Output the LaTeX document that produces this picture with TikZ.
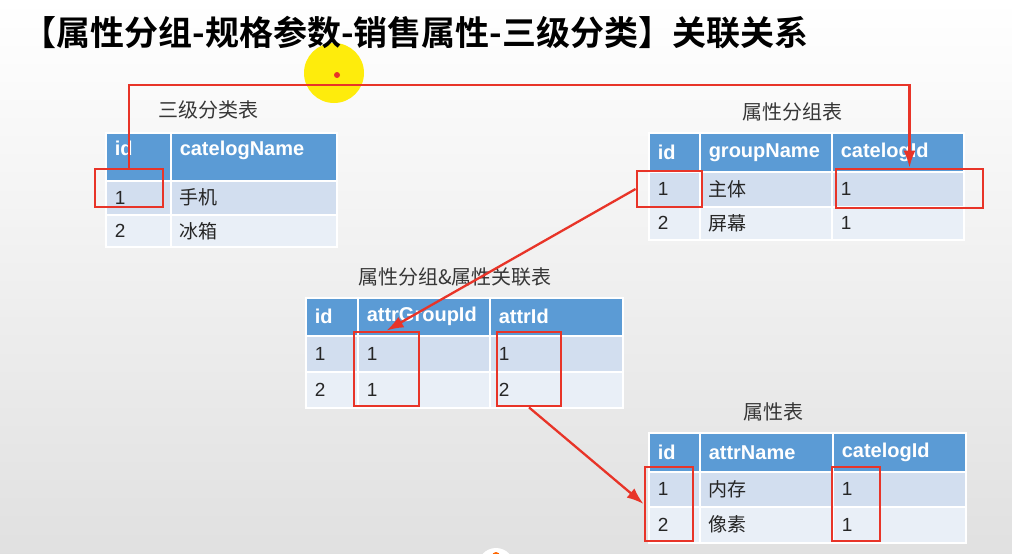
\documentclass[tikz,border=0pt]{standalone}
\usepackage{fontspec}
\setmainfont{Liberation Sans}
\newfontfamily\cjk{Noto Sans CJK SC}
\newfontfamily\cjkbold{Noto Sans CJK SC Bold}
\usetikzlibrary{arrows.meta}

\definecolor{hdrblue}{RGB}{91,155,213}
\definecolor{rowdark}{RGB}{210,222,239}
\definecolor{rowlight}{RGB}{233,239,247}
\definecolor{markred}{RGB}{232,52,40}
\definecolor{labelgray}{RGB}{55,55,55}
\definecolor{cursoryellow}{RGB}{255,236,0}

\tikzset{
  cell/.style={draw=white, line width=1.5pt, anchor=north west, inner xsep=9pt,
    inner ysep=0pt, align=left, text=black!85, font=\fontsize{19}{22}\selectfont},
  hdr/.style={cell, fill=hdrblue, text=white, font=\fontsize{20}{22}\selectfont\bfseries},
  hdrtall/.style={hdr, text depth=16pt},
  rowa/.style={cell, fill=rowdark},
  rowb/.style={cell, fill=rowlight},
  tlabel/.style={text=labelgray, font=\cjk\fontsize{20}{22}\selectfont},
  redbox/.style={draw=markred, line width=2.8pt, inner sep=0pt},
  link/.style={draw=markred, line width=2.3pt, -{Latex[length=17pt,width=12pt]}}
}

\begin{document}
\begin{tikzpicture}[x=1pt,y=-1pt]
  \useasboundingbox (0,0) rectangle (1012,554);
  \shade[top color=white, bottom color=black!12] (0,0) rectangle (1012,554);

  % 三级分类表
  \node[tlabel] (lbl1) at (208,110) {三级分类表};
  \foreach \n/\x/\y/\w/\h/\s/\t [evaluate=\w as \tw using \w-18] in {
      t1h1/105/132/65/48/hdrtall/id, t1h2/170/132/166/48/hdrtall/catelogName,
      t1a1/105/180/65/34/rowa/1,     t1a2/170/180/166/34/rowa/{\cjk 手机},
      t1b1/105/214/65/32/rowb/2,     t1b2/170/214/166/32/rowb/{\cjk 冰箱}}
    \node[\s, minimum height=\h, text width=\tw pt] (\n) at (\x,\y) {\t};

  % 属性分组表
  \node[tlabel] (lbl2) at (792,112) {属性分组表};
  \foreach \n/\x/\y/\w/\h/\s/\t [evaluate=\w as \tw using \w-18] in {
      t2h1/648/132/51/39/hdr/id, t2h2/699/132/132/39/hdr/groupName, t2h3/831/132/132/39/hdr/catelogId,
      t2a1/648/171/51/35/rowa/1, t2a2/699/171/132/35/rowa/{\cjk 主体},  t2a3/831/171/132/35/rowa/1,
      t2b1/648/206/51/33/rowb/2, t2b2/699/206/132/33/rowb/{\cjk 屏幕},  t2b3/831/206/132/33/rowb/1}
    \node[\s, minimum height=\h, text width=\tw pt] (\n) at (\x,\y) {\t};

  % 属性分组&属性关联表
  \node[tlabel] (lbl3) at (455,277) {属性分组\&属性关联表};
  \foreach \n/\x/\y/\w/\h/\s/\t [evaluate=\w as \tw using \w-18] in {
      t3h1/305/297/52/38/hdr/id, t3h2/357/297/132/38/hdr/attrGroupId, t3h3/489/297/133/38/hdr/attrId,
      t3a1/305/335/52/36/rowa/1, t3a2/357/335/132/36/rowa/1,           t3a3/489/335/133/36/rowa/1,
      t3b1/305/371/52/36/rowb/2, t3b2/357/371/132/36/rowb/1,           t3b3/489/371/133/36/rowb/2}
    \node[\s, minimum height=\h, text width=\tw pt] (\n) at (\x,\y) {\t};

  % 属性表
  \node[tlabel] (lbl4) at (773,412) {属性表};
  \foreach \n/\x/\y/\w/\h/\s/\t [evaluate=\w as \tw using \w-18] in {
      t4h1/648/432/51/39/hdr/id, t4h2/699/432/133/39/hdr/attrName,      t4h3/832/432/133/39/hdr/catelogId,
      t4a1/648/471/51/35/rowa/1, t4a2/699/471/133/35/rowa/{\cjk 内存}, t4a3/832/471/133/35/rowa/1,
      t4b1/648/506/51/36/rowb/2, t4b2/699/506/133/36/rowb/{\cjk 像素}, t4b3/832/506/133/36/rowb/1}
    \node[\s, minimum height=\h, text width=\tw pt] (\n) at (\x,\y) {\t};

  % cursor marks
  \fill[cursoryellow, opacity=.95] (334,73) circle (30);
  \fill[markred] (337,75) circle (3);
  \fill[white] (496,566) circle (18);
  \fill[orange!80!red] (496,556) circle (4);

  % red boxes
  \node[redbox, minimum width=68, minimum height=38] (rb1) at (129,188) {};
  \node[redbox, minimum width=65, minimum height=36] (rb2) at (669.5,189) {};
  \node[redbox, minimum width=147, minimum height=39] (rb3) at (909.5,188.5) {};
  \node[redbox, minimum width=65, minimum height=74] (rb4) at (386.5,369) {};
  \node[redbox, minimum width=64, minimum height=74] (rb5) at (529,369) {};
  \node[redbox, minimum width=48, minimum height=74] (rb6) at (669,504) {};
  \node[redbox, minimum width=48, minimum height=74] (rb7) at (856,504) {};

  \coordinate (top) at (520,85);
  \draw[link] (rb1.north) |- (top) -| (rb3.north);
  \draw[link] (rb2.west) -- (rb4.north);
  \draw[link] (rb5.south) -- (rb6.west);

  \node[anchor=west, font=\cjkbold\fontsize{34}{38}\selectfont] (title) at (19,33)
    {【属性分组-规格参数-销售属性-三级分类】关联关系};

\end{tikzpicture}
\end{document}
